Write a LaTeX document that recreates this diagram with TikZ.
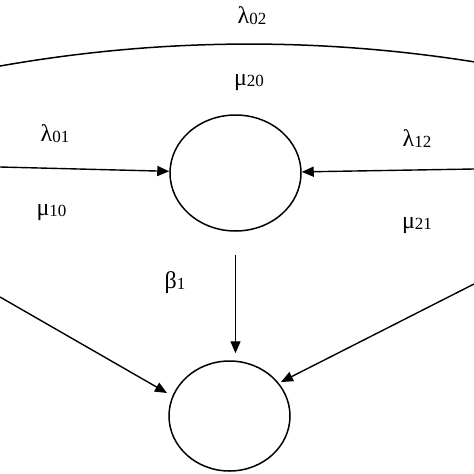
\documentclass[tikz,border=0pt]{standalone}
\usepackage{fontspec}
\setmainfont{Liberation Serif}
\usetikzlibrary{arrows.meta,shapes.geometric}
\newcommand\symlab[2]{#1\raisebox{-1pt}{\fontsize{17}{17}\selectfont #2}}
\tikzset{
  state/.style={draw, line width=1.5pt, ellipse, inner sep=0pt},
  arr/.style={line width=1.4pt, -{Triangle[length=12pt,width=10pt]}},
  lab/.style={anchor=base, inner sep=0pt, font=\fontsize{24}{24}\selectfont}
}
\begin{document}
\begin{tikzpicture}[x=1pt,y=-1pt]
\useasboundingbox (0,0) rectangle (474,474);
\fill[white] (0,0) rectangle (474,474);
\node[state, minimum width=131pt, minimum height=116pt] (e1) at (235.5,173) {};
\node[state, minimum width=121pt, minimum height=110pt] (e2) at (229.5,416) {};
% curve
\coordinate (cl) at (-1,66.2);
\coordinate (cr) at (475,62);
\draw[line width=1.5pt] (cl) .. controls (158,38.1) and (316,36.8) .. (cr);
% arrows into e1
\coordinate (la) at (0,167);
\coordinate (ra) at (474,169);
\draw[arr] (la) -- (e1);
\draw[arr] (ra) -- (e1);
% vertical
\draw[arr, shorten <=23pt, shorten >=7pt] (e1.south) -- (e1.south |- e2.north);
% arrows into e2
\coordinate (lb) at (0,297);
\coordinate (lbt) at (167,393);
\coordinate (rb) at (474,284);
\coordinate (rbt) at (281,382);
\draw[arr] (lb) -- (lbt);
\draw[arr] (rb) -- (rbt);
% labels
\node[lab] (l02) at (252,23) {\symlab{λ}{02}};
\node[lab] (m20) at (249,85) {\symlab{μ}{20}};
\node[lab] (l01) at (55,141) {\symlab{λ}{01}};
\node[lab] (l12) at (417,146) {\symlab{λ}{12}};
\node[lab] (m10) at (51.5,215) {\symlab{μ}{10}};
\node[lab] (m21) at (417,228) {\symlab{μ}{21}};
\node[lab] (b1) at (175,288) {\symlab{β}{1}};
\end{tikzpicture}
\end{document}
